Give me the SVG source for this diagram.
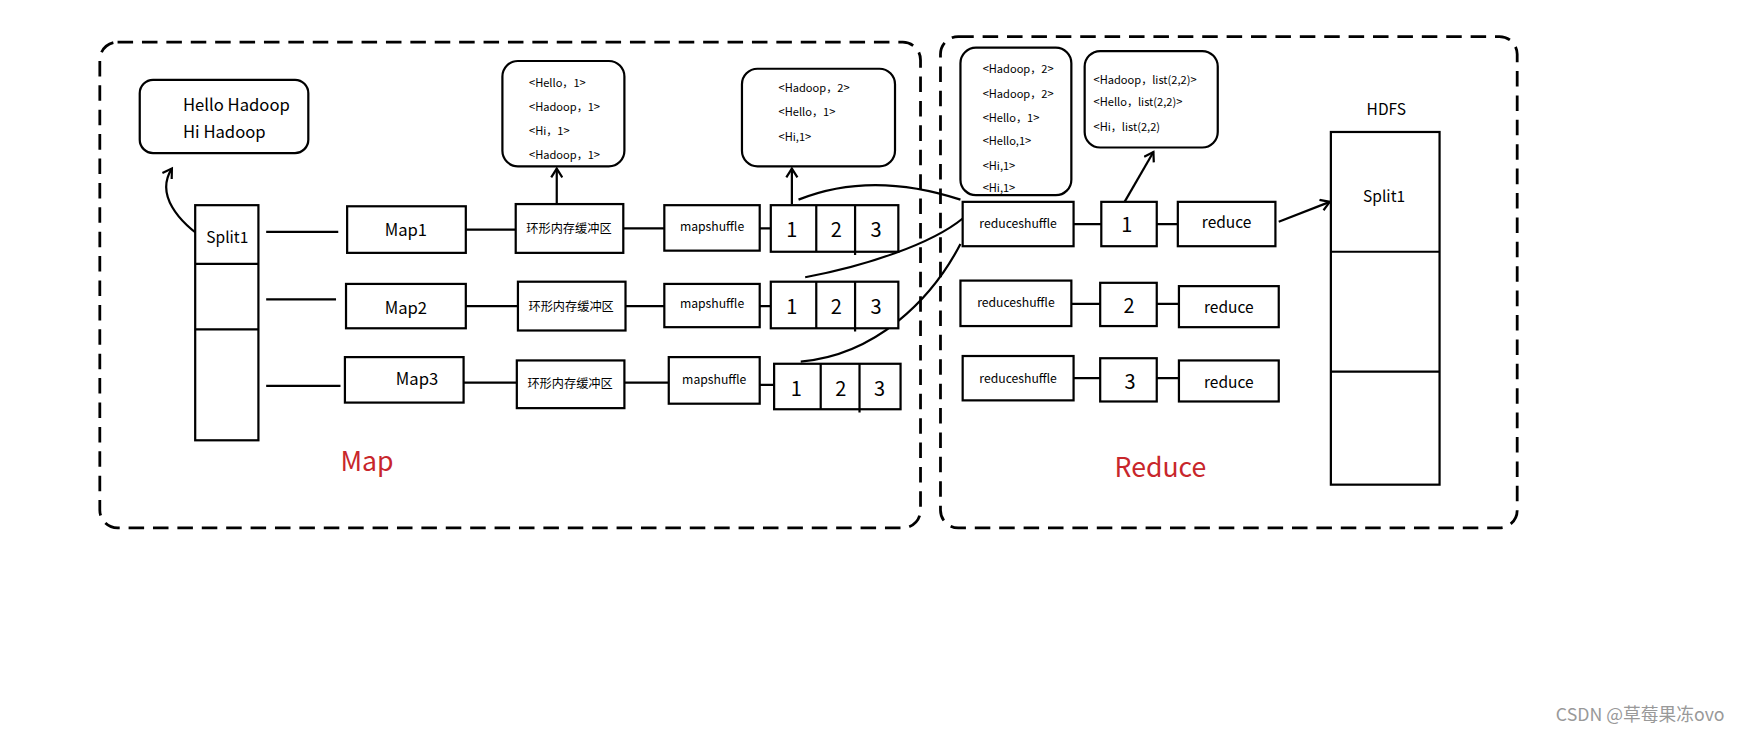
<svg xmlns="http://www.w3.org/2000/svg" width="1739" height="737" viewBox="0 0 1739 737">
<defs>
<marker id="ah" markerWidth="12" markerHeight="12" refX="9" refY="6" orient="auto" markerUnits="userSpaceOnUse"><path d="M1,1 L9,6 L1,11" fill="none" stroke="#000" stroke-width="2"/></marker>
</defs>
<style>
.b{fill:#fff;stroke:#000;stroke-width:2}
.d{fill:none;stroke:#000;stroke-width:2.5;stroke-dasharray:14 8}
.l{fill:none;stroke:#000;stroke-width:2}
text{font-family:"Microsoft YaHei","Noto Sans CJK SC","Liberation Sans",sans-serif;fill:#000}
.s{font-size:11px}
.m{font-size:10px}
.n{font-size:18px}
.r{font-size:24px;fill:#c8262b}
</style>
<rect width="1739" height="737" fill="#fff"/>
<g transform="scale(1.10906)">
<rect class="d" x="90" y="38" width="740" height="438" rx="16"/>
<rect class="d" x="848" y="33" width="520" height="443" rx="16"/>
<g id="connectors">
<path class="l" d="M188,218 C160,200 140,175 155,152" marker-end="url(#ah)"/>
<path class="l" d="M240,209 H305 M240,270 H303 M240,348 H307 M420,207 H465 M420,276 H467 M418,345 H466 M562,206 H599 M564,276 H599 M563,345 H603 M685,206 H695 M685,276 H695 M685,347 H698"/>
<path class="l" d="M502,184 V152" marker-end="url(#ah)"/>
<path class="l" d="M714,184 V152" marker-end="url(#ah)"/>
<path class="l" d="M720,180 C770,160 820,165 866,180"/>
<path class="l" d="M726,250 C780,240 840,220 868,197"/>
<path class="l" d="M722,326 C790,320 840,270 866,220"/>
<path class="l" d="M968,202 H993 M1043,202 H1062 M966,274 H992 M1043,274 H1063 M968,341 H992 M1043,341 H1063"/>
<path class="l" d="M1014,182 L1040,137" marker-end="url(#ah)"/>
<path class="l" d="M1153,200 L1199,182" marker-end="url(#ah)"/>
</g>
<g id="input"><rect class="b" x="126" y="72" width="152" height="66" rx="12"/><text x="165" y="100" font-size="15">Hello Hadoop</text><text x="165" y="124" font-size="15">Hi Hadoop</text></g>
<g id="split"><rect class="b" x="176" y="185" width="57" height="212"/><path class="l" d="M176,238 H233 M176,297 H233"/><text x="186" y="219" font-size="14">Split1</text></g>
<g id="map1"><rect class="b" x="313" y="186" width="107" height="42"/><text x="366" y="213" font-size="15" text-anchor="middle">Map1</text></g>
<g id="map2"><rect class="b" x="312" y="256" width="108" height="40"/><text x="366" y="283" font-size="15" text-anchor="middle">Map2</text></g>
<g id="map3"><rect class="b" x="311" y="322" width="107" height="41"/><text x="376" y="347" font-size="15" text-anchor="middle">Map3</text></g>
<g id="buf1"><rect class="b" x="465" y="184" width="97" height="44"/><text class="s" x="513" y="210" text-anchor="middle">环形内存缓冲区</text></g>
<g id="buf2"><rect class="b" x="467" y="254" width="97" height="44"/><text class="s" x="515" y="280" text-anchor="middle">环形内存缓冲区</text></g>
<g id="buf3"><rect class="b" x="466" y="325" width="97" height="43"/><text class="s" x="514" y="350" text-anchor="middle">环形内存缓冲区</text></g>
<g id="ms1"><rect class="b" x="599" y="185" width="86" height="41"/><text class="s" x="642" y="208" text-anchor="middle">mapshuffle</text></g>
<g id="ms2"><rect class="b" x="599" y="256" width="86" height="39"/><text class="s" x="642" y="278" text-anchor="middle">mapshuffle</text></g>
<g id="ms3"><rect class="b" x="603" y="322" width="82" height="42"/><text class="s" x="644" y="346" text-anchor="middle">mapshuffle</text></g>
<g id="p1"><rect class="b" x="695" y="185" width="115" height="42"/><path class="l" d="M736,185 V227 M771,185 V230"/><text class="n" x="714" y="214" text-anchor="middle">1</text><text class="n" x="754" y="214" text-anchor="middle">2</text><text class="n" x="790" y="214" text-anchor="middle">3</text></g>
<g id="p2"><rect class="b" x="695" y="254" width="115" height="42"/><path class="l" d="M736,254 V296 M771,254 V299"/><text class="n" x="714" y="283" text-anchor="middle">1</text><text class="n" x="754" y="283" text-anchor="middle">2</text><text class="n" x="790" y="283" text-anchor="middle">3</text></g>
<g id="p3"><rect class="b" x="698" y="328" width="114" height="41"/><path class="l" d="M740,328 V369 M775,328 V372"/><text class="n" x="718" y="357" text-anchor="middle">1</text><text class="n" x="758" y="357" text-anchor="middle">2</text><text class="n" x="793" y="357" text-anchor="middle">3</text></g>
<g id="kv1"><rect class="b" x="453" y="55" width="110" height="95" rx="14"/><text class="m" x="477" y="78">&lt;Hello，1&gt;</text><text class="m" x="477" y="100">&lt;Hadoop，1&gt;</text><text class="m" x="477" y="122">&lt;Hi，1&gt;</text><text class="m" x="477" y="143">&lt;Hadoop，1&gt;</text></g>
<g id="kv2"><rect class="b" x="669" y="62" width="138" height="88" rx="14"/><text class="m" x="702" y="83">&lt;Hadoop，2&gt;</text><text class="m" x="702" y="105">&lt;Hello，1&gt;</text><text class="m" x="702" y="127">&lt;Hi,1&gt;</text></g>
<g id="kv3"><rect class="b" x="866" y="43" width="100" height="133" rx="14"/><text class="m" x="886" y="66">&lt;Hadoop，2&gt;</text><text class="m" x="886" y="88">&lt;Hadoop，2&gt;</text><text class="m" x="886" y="110">&lt;Hello，1&gt;</text><text class="m" x="886" y="131">&lt;Hello,1&gt;</text><text class="m" x="886" y="153">&lt;Hi,1&gt;</text><text class="m" x="886" y="173">&lt;Hi,1&gt;</text></g>
<g id="kv4"><rect class="b" x="978" y="46" width="120" height="87" rx="14"/><text class="m" x="986" y="76">&lt;Hadoop，list(2,2)&gt;</text><text class="m" x="986" y="96">&lt;Hello，list(2,2)&gt;</text><text class="m" x="986" y="118">&lt;Hi，list(2,2)</text></g>
<g id="rs1"><rect class="b" x="868" y="182" width="100" height="40"/><text class="s" x="918" y="206" text-anchor="middle">reduceshuffle</text></g>
<g id="rs2"><rect class="b" x="866" y="253" width="100" height="41"/><text class="s" x="916" y="277" text-anchor="middle">reduceshuffle</text></g>
<g id="rs3"><rect class="b" x="868" y="321" width="100" height="40"/><text class="s" x="918" y="345" text-anchor="middle">reduceshuffle</text></g>
<g id="k1"><rect class="b" x="993" y="182" width="50" height="40"/><text class="n" x="1016" y="209" text-anchor="middle">1</text></g>
<g id="k2"><rect class="b" x="992" y="255" width="51" height="39"/><text class="n" x="1018" y="282" text-anchor="middle">2</text></g>
<g id="k3"><rect class="b" x="992" y="323" width="51" height="39"/><text class="n" x="1019" y="351" text-anchor="middle">3</text></g>
<g id="red1"><rect class="b" x="1062" y="182" width="88" height="40"/><text x="1106" y="206" font-size="14" text-anchor="middle">reduce</text></g>
<g id="red2"><rect class="b" x="1063" y="258" width="90" height="37"/><text x="1108" y="282" font-size="14" text-anchor="middle">reduce</text></g>
<g id="red3"><rect class="b" x="1063" y="325" width="90" height="37"/><text x="1108" y="350" font-size="14" text-anchor="middle">reduce</text></g>
<g id="hdfs"><text x="1250" y="104" font-size="14" text-anchor="middle">HDFS</text><rect class="b" x="1200" y="119" width="98" height="318"/><path class="l" d="M1200,227 H1298 M1200,335 H1298"/><text x="1248" y="182" font-size="14" text-anchor="middle">Split1</text></g>
<text class="r" x="307" y="425">Map</text>
<text class="r" x="1005" y="430">Reduce</text>
<text x="1555" y="650" font-size="16" text-anchor="end" style="fill:#999">CSDN @草莓果冻ovo</text>
</g>
</svg>
